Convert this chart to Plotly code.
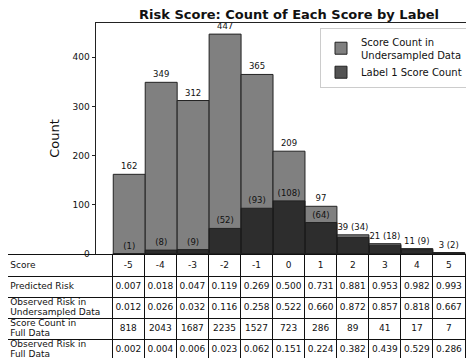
import plotly.graph_objects as go

scores = [-5, -4, -3, -2, -1, 0, 1, 2, 3, 4, 5]
undersampled_counts = [162, 349, 312, 447, 365, 209, 97, 39, 21, 11, 3]
label1_counts = [1, 8, 9, 52, 93, 108, 64, 34, 18, 9, 2]

predicted_risk = ["0.007", "0.018", "0.047", "0.119", "0.269", "0.500", "0.731", "0.881", "0.953", "0.982", "0.993"]
observed_risk_under = ["0.012", "0.026", "0.032", "0.116", "0.258", "0.522", "0.660", "0.872", "0.857", "0.818", "0.667"]
full_counts = [818, 2043, 1687, 2235, 1527, 723, 286, 89, 41, 17, 7]
observed_risk_full = ["0.002", "0.004", "0.006", "0.023", "0.062", "0.151", "0.224", "0.382", "0.439", "0.529", "0.286"]

row_labels = ["Score", "Predicted Risk", "Observed Risk in\nUndersampled Data",
              "Score Count in\nFull Data", "Observed Risk in\nFull Data"]

FONT = "DejaVu Sans"
W, H = 474, 358
TXT = "#111111"

gray_text, dark_text = [], []
for g, d in zip(undersampled_counts, label1_counts):
    if g - d < 20:
        gray_text.append(f"{g} ({d})")
        dark_text.append("")
    else:
        gray_text.append(str(g))
        dark_text.append(f"({d})")

fig = go.Figure()
fig.add_trace(go.Bar(
    x=scores, y=undersampled_counts, width=1,
    name="Score Count in<br>Undersampled Data",
    marker=dict(color="#808080", line=dict(color="#222222", width=1)),
    text=gray_text, textposition="outside", constraintext="none",
    textfont=dict(family=FONT, size=8.5, color=TXT),
    cliponaxis=False,
))
fig.add_trace(go.Bar(
    x=scores, y=label1_counts, width=1,
    name="Label 1 Score Count",
    marker=dict(color="rgba(10,10,10,0.7)", line=dict(color="#222222", width=1)),
    text=dark_text, textposition="outside", constraintext="none",
    textfont=dict(family=FONT, size=8.5, color=TXT),
    cliponaxis=False,
))

# ---- table drawn on a second pair of axes (x2 shares the score units) ----
table_rows = [
    [str(s) for s in scores],
    predicted_risk,
    observed_risk_under,
    [str(v) for v in full_counts],
    observed_risk_full,
]
LABEL_COL_LEFT = -8.75   # score units: label column is ~3.25 score columns wide
cx, cy, ct = [], [], []
for r, row in enumerate(table_rows):
    for s, v in zip(scores, row):
        cx.append(s)
        cy.append(r + 0.5)
        ct.append(v)
fig.add_trace(go.Scatter(
    x=cx, y=cy, text=ct, mode="text", xaxis="x2", yaxis="y2",
    textposition="middle center", showlegend=False, hoverinfo="skip",
    textfont=dict(family=FONT, size=9, color=TXT),
))
lx, ly, lt = [], [], []
for r, lab in enumerate(row_labels):
    lines = lab.split("\n")
    n = len(lines)
    for k, line in enumerate(lines):
        lx.append(LABEL_COL_LEFT + 0.07)
        ly.append(r + 0.5 + (k - (n - 1) / 2) * 0.5)
        lt.append(line)
fig.add_trace(go.Scatter(
    x=lx, y=ly, text=lt, mode="text", xaxis="x2", yaxis="y2",
    textposition="middle right", showlegend=False, hoverinfo="skip",
    textfont=dict(family=FONT, size=9, color=TXT),
))

fig.update_layout(
    width=W, height=H,
    margin=dict(l=0, r=0, t=0, b=0),
    barmode="overlay",
    plot_bgcolor="white", paper_bgcolor="white",
    font=dict(family=FONT, color=TXT),
    title=dict(text="<b>Risk Score: Count of Each Score by Label</b>",
               x=(88 + 474) / 2 / W, xanchor="center",
               y=1 - 6 / H, yanchor="middle", yref="container",
               font=dict(family=FONT, size=13, color=TXT)),
    xaxis=dict(domain=[88 / W, 1], range=[-6.04, 6.04], showticklabels=False, ticks="",
               showgrid=False, zeroline=False, showline=True, mirror=True,
               linecolor="#222222", linewidth=1),
    yaxis=dict(domain=[(H - 249.5) / H, 1 - 15 / H], range=[0, 470],
               tickvals=[0, 100, 200, 300, 400],
               ticks="outside", ticklen=3.5, tickcolor="#222222",
               tickfont=dict(family=FONT, size=9, color=TXT),
               showgrid=False, zeroline=False, showline=True,
               linecolor="#222222", linewidth=1,
               title=dict(text="Count", standoff=9,
                          font=dict(family=FONT, size=13, color=TXT))),
    xaxis2=dict(domain=[0, 457 / W], range=[LABEL_COL_LEFT, 5.5], anchor="y2",
                tickvals=[s - 0.5 for s in scores], showticklabels=False, ticks="",
                showgrid=True, gridcolor="#111111", gridwidth=1,
                zeroline=False, showline=True, mirror=True,
                linecolor="#111111", linewidth=1),
    yaxis2=dict(domain=[1 / H, (H - 251) / H], range=[5, 0], anchor="x2",
                tickvals=[1, 2, 3, 4], showticklabels=False, ticks="",
                showgrid=True, gridcolor="#111111", gridwidth=1,
                zeroline=False, showline=True, mirror=True,
                linecolor="#111111", linewidth=1),
    legend=dict(x=312 / W, y=1 - 20 / H, xanchor="left", yanchor="top",
                bgcolor="rgba(255,255,255,0.85)", bordercolor="#cccccc",
                borderwidth=1, font=dict(family=FONT, size=10, color=TXT),
                itemwidth=30, tracegroupgap=0),
    showlegend=True,
)

fig.write_html("out.html")
